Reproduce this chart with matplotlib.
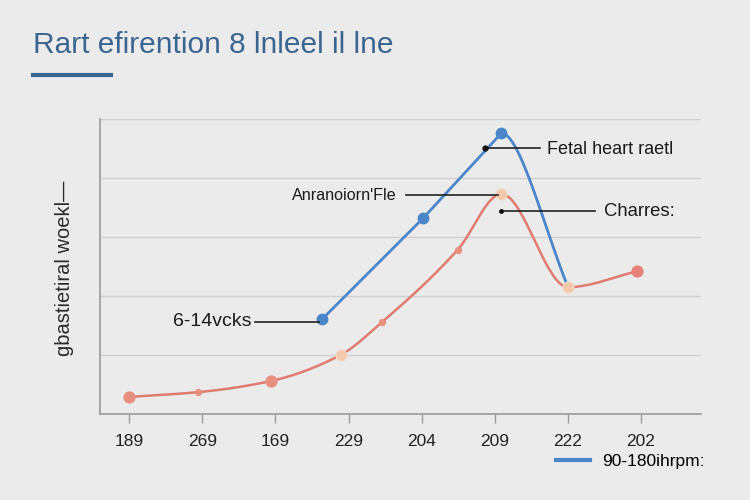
import numpy as np
import matplotlib
matplotlib.use("Agg")
import matplotlib.pyplot as plt
from matplotlib.lines import Line2D

# ---- data ----
tick_labels = ['189', '269', '169', '229', '204', '209', '222', '202']
red_x = [0.0, 0.94, 1.94, 2.89, 3.46, 4.49, 5.09, 6.0, 6.95]
red_y = [0.29, 0.37, 0.56, 1.0, 1.56, 2.78, 3.73, 2.15, 2.42]
red_big = [True, False, True, True, False, False, True, True, True]
red_fill = ['#e8907e', '#e8907e', '#e8907e', '#f3c8ab', '#e8907e', '#e8907e',
            '#f3c8ab', '#f3c8ab', '#e6807a']
blue_x = [2.64, 4.02, 5.09, 6.0]
blue_y = [1.61, 3.32, 4.76, 2.15]

title = 'Rart efirention 8 lnleel il lne'
ylabel = 'gbastietiral woekl—'
legend_label = '90-180ihrpm:'

BG = '#ebebeb'
RED = '#e07b6f'
BLUE = '#4a86c9'
TITLE_C = '#3b6591'

plt.rcParams['font.family'] = ['Liberation Sans', 'DejaVu Sans']


def pchip(xs, ys, n=40):
    x = np.asarray(xs, float); y = np.asarray(ys, float)
    h = np.diff(x); d = np.diff(y) / h
    m = np.zeros_like(y)
    for k in range(1, len(x) - 1):
        if d[k - 1] * d[k] > 0:
            w1 = 2 * h[k] + h[k - 1]; w2 = h[k] + 2 * h[k - 1]
            m[k] = (w1 + w2) / (w1 / d[k - 1] + w2 / d[k])
    m[0] = d[0]; m[-1] = d[-1]
    X, Y = [], []
    for k in range(len(x) - 1):
        t = np.linspace(0, 1, n)
        h00 = 2 * t**3 - 3 * t**2 + 1; h10 = t**3 - 2 * t**2 + t
        h01 = -2 * t**3 + 3 * t**2; h11 = t**3 - t**2
        X.append(x[k] + t * h[k])
        Y.append(h00 * y[k] + h10 * h[k] * m[k] + h01 * y[k + 1] + h11 * h[k] * m[k + 1])
    return np.concatenate(X), np.concatenate(Y)


fig = plt.figure(figsize=(7.5, 5), dpi=100, facecolor=BG)
ax = fig.add_axes([100 / 750, 1 - 414 / 500, 601 / 750, 295 / 500])
ax.set_facecolor(BG)

ax.set_xlim(-0.40, 7.82)
ax.set_ylim(0, 5)
ax.set_yticks([1, 2, 3, 4, 5])
ax.set_yticklabels([])
ax.tick_params(axis='y', length=0)
ax.grid(axis='y', color='#cfcfcf', lw=1)
ax.set_axisbelow(True)
ax.set_xticks(range(len(tick_labels)))
ax.set_xticklabels(tick_labels, fontsize=12.5, color='#222222')
ax.tick_params(axis='x', length=6.5, width=1, color='#9a9a9a', pad=8)
for s in ['top', 'right']:
    ax.spines[s].set_visible(False)
for s in ['left', 'bottom']:
    ax.spines[s].set_color('#9a9a9a')
    ax.spines[s].set_linewidth(1.2)
ax.spines['left'].set_bounds(0, 5)

# blue line: straight rise, curved descent
ax.plot(blue_x[:3], blue_y[:3], color=BLUE, lw=2, zorder=3, solid_capstyle='round')
t = np.linspace(0, 1, 60)
p0 = np.array([blue_x[2], blue_y[2]]); p3 = np.array([blue_x[3], blue_y[3]])
c1 = p0 + np.array([0.25, 0.0]); c2 = p3 + np.array([-0.35, 1.1])
bez = ((1 - t)**3)[:, None] * p0 + (3 * (1 - t)**2 * t)[:, None] * c1 \
    + (3 * (1 - t) * t**2)[:, None] * c2 + (t**3)[:, None] * p3
ax.plot(bez[:, 0], bez[:, 1], color=BLUE, lw=2, zorder=3)
ax.plot(blue_x[:3], blue_y[:3], 'o', color=BLUE, ms=7.5, zorder=5)

# red smooth line
rx, ry = pchip(red_x, red_y)
ax.plot(rx, ry, color=RED, lw=1.8, zorder=4)
for x, y, big, fc in zip(red_x, red_y, red_big, red_fill):
    ax.plot(x, y, 'o', ms=8 if big else 4.5, color=fc,
            mec='#f5d9c6' if fc == '#f3c8ab' else fc,
            mew=0.8, zorder=6)

# annotations
ln = dict(color='#222222', lw=1.2, zorder=7)
ax.plot([4.87, 5.62], [4.51, 4.51], **ln)
ax.plot(4.87, 4.51, 'o', color='#111111', ms=3.5, zorder=8)
ax.text(5.72, 4.48, 'Fetal heart raetl', fontsize=13, va='center', ha='left', color='#1a1a1a')

ax.plot([3.78, 5.05], [3.71, 3.71], **ln)
ax.text(3.66, 3.71, "Anranoiorn'Fle", fontsize=11.6, va='center', ha='right', color='#1a1a1a')

ax.plot([5.08, 6.37], [3.44, 3.44], **ln)
ax.plot(5.08, 3.44, 'o', color='#111111', ms=2.5, zorder=8)
ax.text(6.5, 3.44, 'Charres:', fontsize=13.3, va='center', ha='left', color='#1a1a1a')

ax.plot([1.72, 2.6], [1.56, 1.56], **ln)
ax.text(1.67, 1.56, '6-14vcks', fontsize=14, va='center', ha='right', color='#1a1a1a')

# y label
fig.text(64 / 750, 1 - 268 / 500, ylabel, rotation=90, fontsize=14.5,
         va='center', ha='center', color='#2a2a2a')

# title and underline
fig.text(33 / 750, 1 - 45 / 500, title, fontsize=21.5, color=TITLE_C, va='center', ha='left')
fig.add_artist(Line2D([33 / 750, 111 / 750], [1 - 75 / 500, 1 - 75 / 500],
                      color=TITLE_C, lw=3, transform=fig.transFigure))

# legend
h = Line2D([], [], color=BLUE, lw=3)
fig.legend(handles=[h], labels=[legend_label], loc='center left',
           bbox_to_anchor=(540 / 750, 1 - 461 / 500), frameon=False,
           handlelength=2.0, fontsize=12.5, handletextpad=0.7)

fig.savefig('out.png', dpi=100, facecolor=BG)
